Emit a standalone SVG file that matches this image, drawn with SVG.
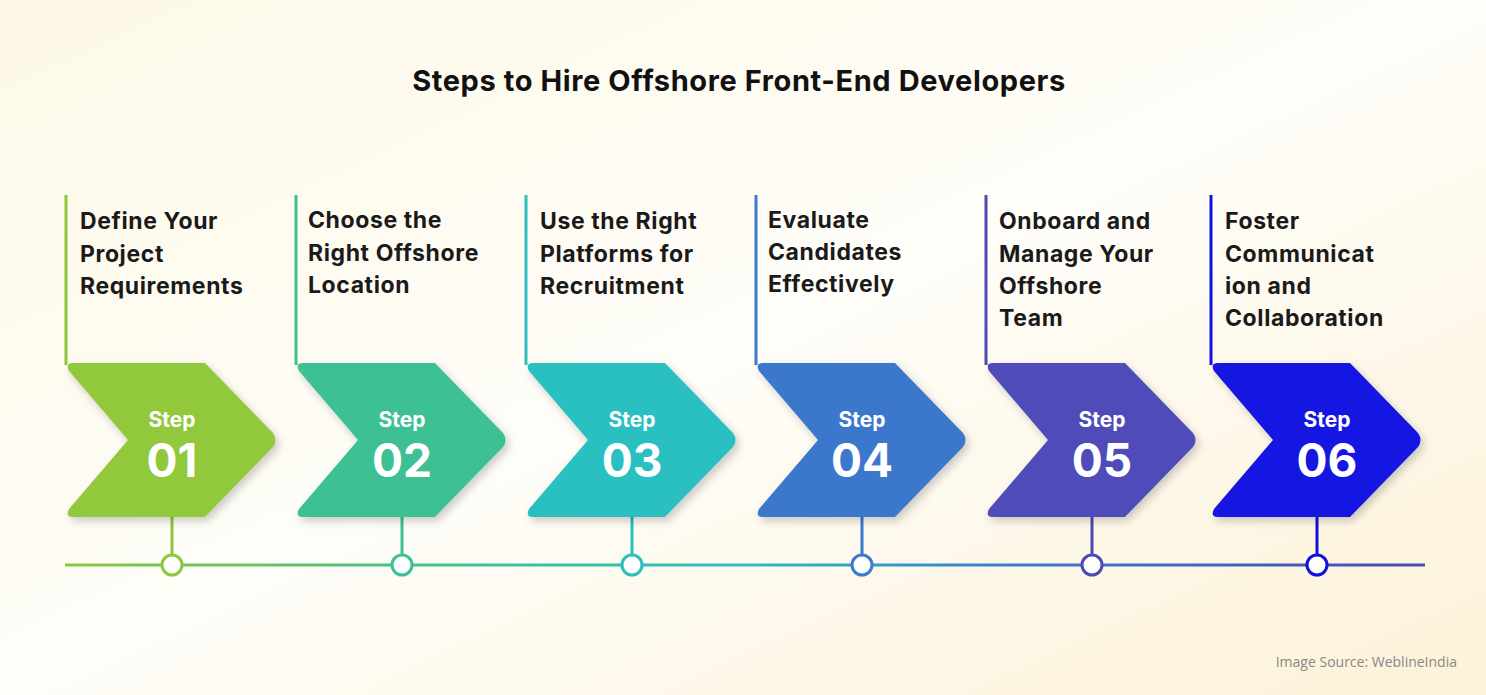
<svg xmlns="http://www.w3.org/2000/svg" width="1486" height="695" viewBox="0 0 1486 695">
<defs>
<style>
.t{font-family:Inter,"Open Sans",sans-serif;font-weight:700;font-size:23px;letter-spacing:0.6px;fill:#1a1a1a}
.s{font-family:Inter,"Open Sans",sans-serif;font-weight:700;fill:#fff;text-anchor:middle}
.v{stroke-width:3;fill:none}
</style>
<linearGradient id="bg" x1="0" y1="0" x2="1" y2="1"><stop offset="0" stop-color="#fdf8e6"/><stop offset="0.5" stop-color="#fefdf8"/><stop offset="1" stop-color="#fdf2d8"/></linearGradient>
<linearGradient id="hl" gradientUnits="userSpaceOnUse" x1="65" y1="0" x2="1425" y2="0"><stop offset="0" stop-color="#8dc63f"/><stop offset="0.3" stop-color="#3cc194"/><stop offset="0.5" stop-color="#2bbfc0"/><stop offset="0.7" stop-color="#3a7bd0"/><stop offset="1" stop-color="#4c4ab5"/></linearGradient>
<filter id="sh" x="-10%" y="-10%" width="130%" height="130%"><feDropShadow dx="3" dy="4" stdDeviation="4" flood-opacity="0.2"/></filter>
<path id="ch" d="M8,0 H140 L208,70 Q213,77 208,84 L140,154 H8 Q0,154 4,146 L63,77 L4,8 Q0,0 8,0 Z"/>
</defs>
<rect width="1486" height="695" fill="url(#bg)"/>
<text x="739" y="91" text-anchor="middle" style="font-family:Inter,'Open Sans',sans-serif;font-weight:700;font-size:29px;letter-spacing:0.6px;fill:#111">Steps to Hire Offshore Front-End Developers</text>
<g id="connectors">
<line x1="65" y1="565" x2="1425" y2="565" stroke="url(#hl)" stroke-width="3"/>
</g>
<g id="step1" transform="translate(65,0)"><line class="v" x1="1" y1="195" x2="1" y2="365" stroke="#8dc63f"/><line class="v" x1="107" y1="515" x2="107" y2="555" stroke="#8dc63f"/><circle cx="107" cy="565" r="10" fill="#fff" stroke="#8dc63f" stroke-width="3"/><use href="#ch" y="363" fill="#92c83a" filter="url(#sh)"/><text class="t"><tspan x="15" y="229">Define Your</tspan><tspan x="15" y="262">Project</tspan><tspan x="15" y="294">Requirements</tspan></text><text class="s" x="107" y="427" font-size="21">Step</text><text class="s" x="107" y="477" font-size="46">01</text></g>
<g id="step2" transform="translate(295,0)"><line class="v" x1="1" y1="195" x2="1" y2="365" stroke="#3cc194"/><line class="v" x1="107" y1="515" x2="107" y2="555" stroke="#3cc194"/><circle cx="107" cy="565" r="10" fill="#fff" stroke="#3cc194" stroke-width="3"/><use href="#ch" y="363" fill="#3cc194" filter="url(#sh)"/><text class="t"><tspan x="13" y="228">Choose the</tspan><tspan x="13" y="261">Right Offshore</tspan><tspan x="13" y="293">Location</tspan></text><text class="s" x="107" y="427" font-size="21">Step</text><text class="s" x="107" y="477" font-size="46">02</text></g>
<g id="step3" transform="translate(525,0)"><line class="v" x1="1" y1="195" x2="1" y2="365" stroke="#2bbfc0"/><line class="v" x1="107" y1="515" x2="107" y2="555" stroke="#2bbfc0"/><circle cx="107" cy="565" r="10" fill="#fff" stroke="#2bbfc0" stroke-width="3"/><use href="#ch" y="363" fill="#2bbfc0" filter="url(#sh)"/><text class="t"><tspan x="15" y="229">Use the Right</tspan><tspan x="15" y="262">Platforms for</tspan><tspan x="15" y="294">Recruitment</tspan></text><text class="s" x="107" y="427" font-size="21">Step</text><text class="s" x="107" y="477" font-size="46">03</text></g>
<g id="step4" transform="translate(755,0)"><line class="v" x1="1" y1="195" x2="1" y2="365" stroke="#3a7bd0"/><line class="v" x1="107" y1="515" x2="107" y2="555" stroke="#3a7bd0"/><circle cx="107" cy="565" r="10" fill="#fff" stroke="#3a7bd0" stroke-width="3"/><use href="#ch" y="363" fill="#3a78cc" filter="url(#sh)"/><text class="t"><tspan x="13" y="228">Evaluate</tspan><tspan x="13" y="260">Candidates</tspan><tspan x="13" y="292">Effectively</tspan></text><text class="s" x="107" y="427" font-size="21">Step</text><text class="s" x="107" y="477" font-size="46">04</text></g>
<g id="step5" transform="translate(985,0)"><line class="v" x1="1" y1="195" x2="1" y2="365" stroke="#4c4ab5"/><line class="v" x1="107" y1="515" x2="107" y2="555" stroke="#4c4ab5"/><circle cx="107" cy="565" r="10" fill="#fff" stroke="#4c4ab5" stroke-width="3"/><use href="#ch" y="363" fill="#4f4bb8" filter="url(#sh)"/><text class="t"><tspan x="14" y="229">Onboard and</tspan><tspan x="14" y="262">Manage Your</tspan><tspan x="14" y="294">Offshore</tspan><tspan x="14" y="326">Team</tspan></text><text class="s" x="117" y="427" font-size="21">Step</text><text class="s" x="117" y="477" font-size="46">05</text></g>
<g id="step6" transform="translate(1210,0)"><line class="v" x1="1" y1="195" x2="1" y2="365" stroke="#1010e0"/><line class="v" x1="107" y1="515" x2="107" y2="555" stroke="#1010e0"/><circle cx="107" cy="565" r="10" fill="#fff" stroke="#1010e0" stroke-width="3"/><use href="#ch" y="363" fill="#1212e2" filter="url(#sh)"/><text class="t"><tspan x="15" y="229">Foster</tspan><tspan x="15" y="262">Communicat</tspan><tspan x="15" y="294">ion and</tspan><tspan x="15" y="326">Collaboration</tspan></text><text class="s" x="117" y="427" font-size="21">Step</text><text class="s" x="117" y="477" font-size="46">06</text></g>
<text x="1457" y="667" text-anchor="end" style="font-family:'Open Sans',sans-serif;font-size:14px;fill:#888">Image Source: WeblineIndia</text>
</svg>
